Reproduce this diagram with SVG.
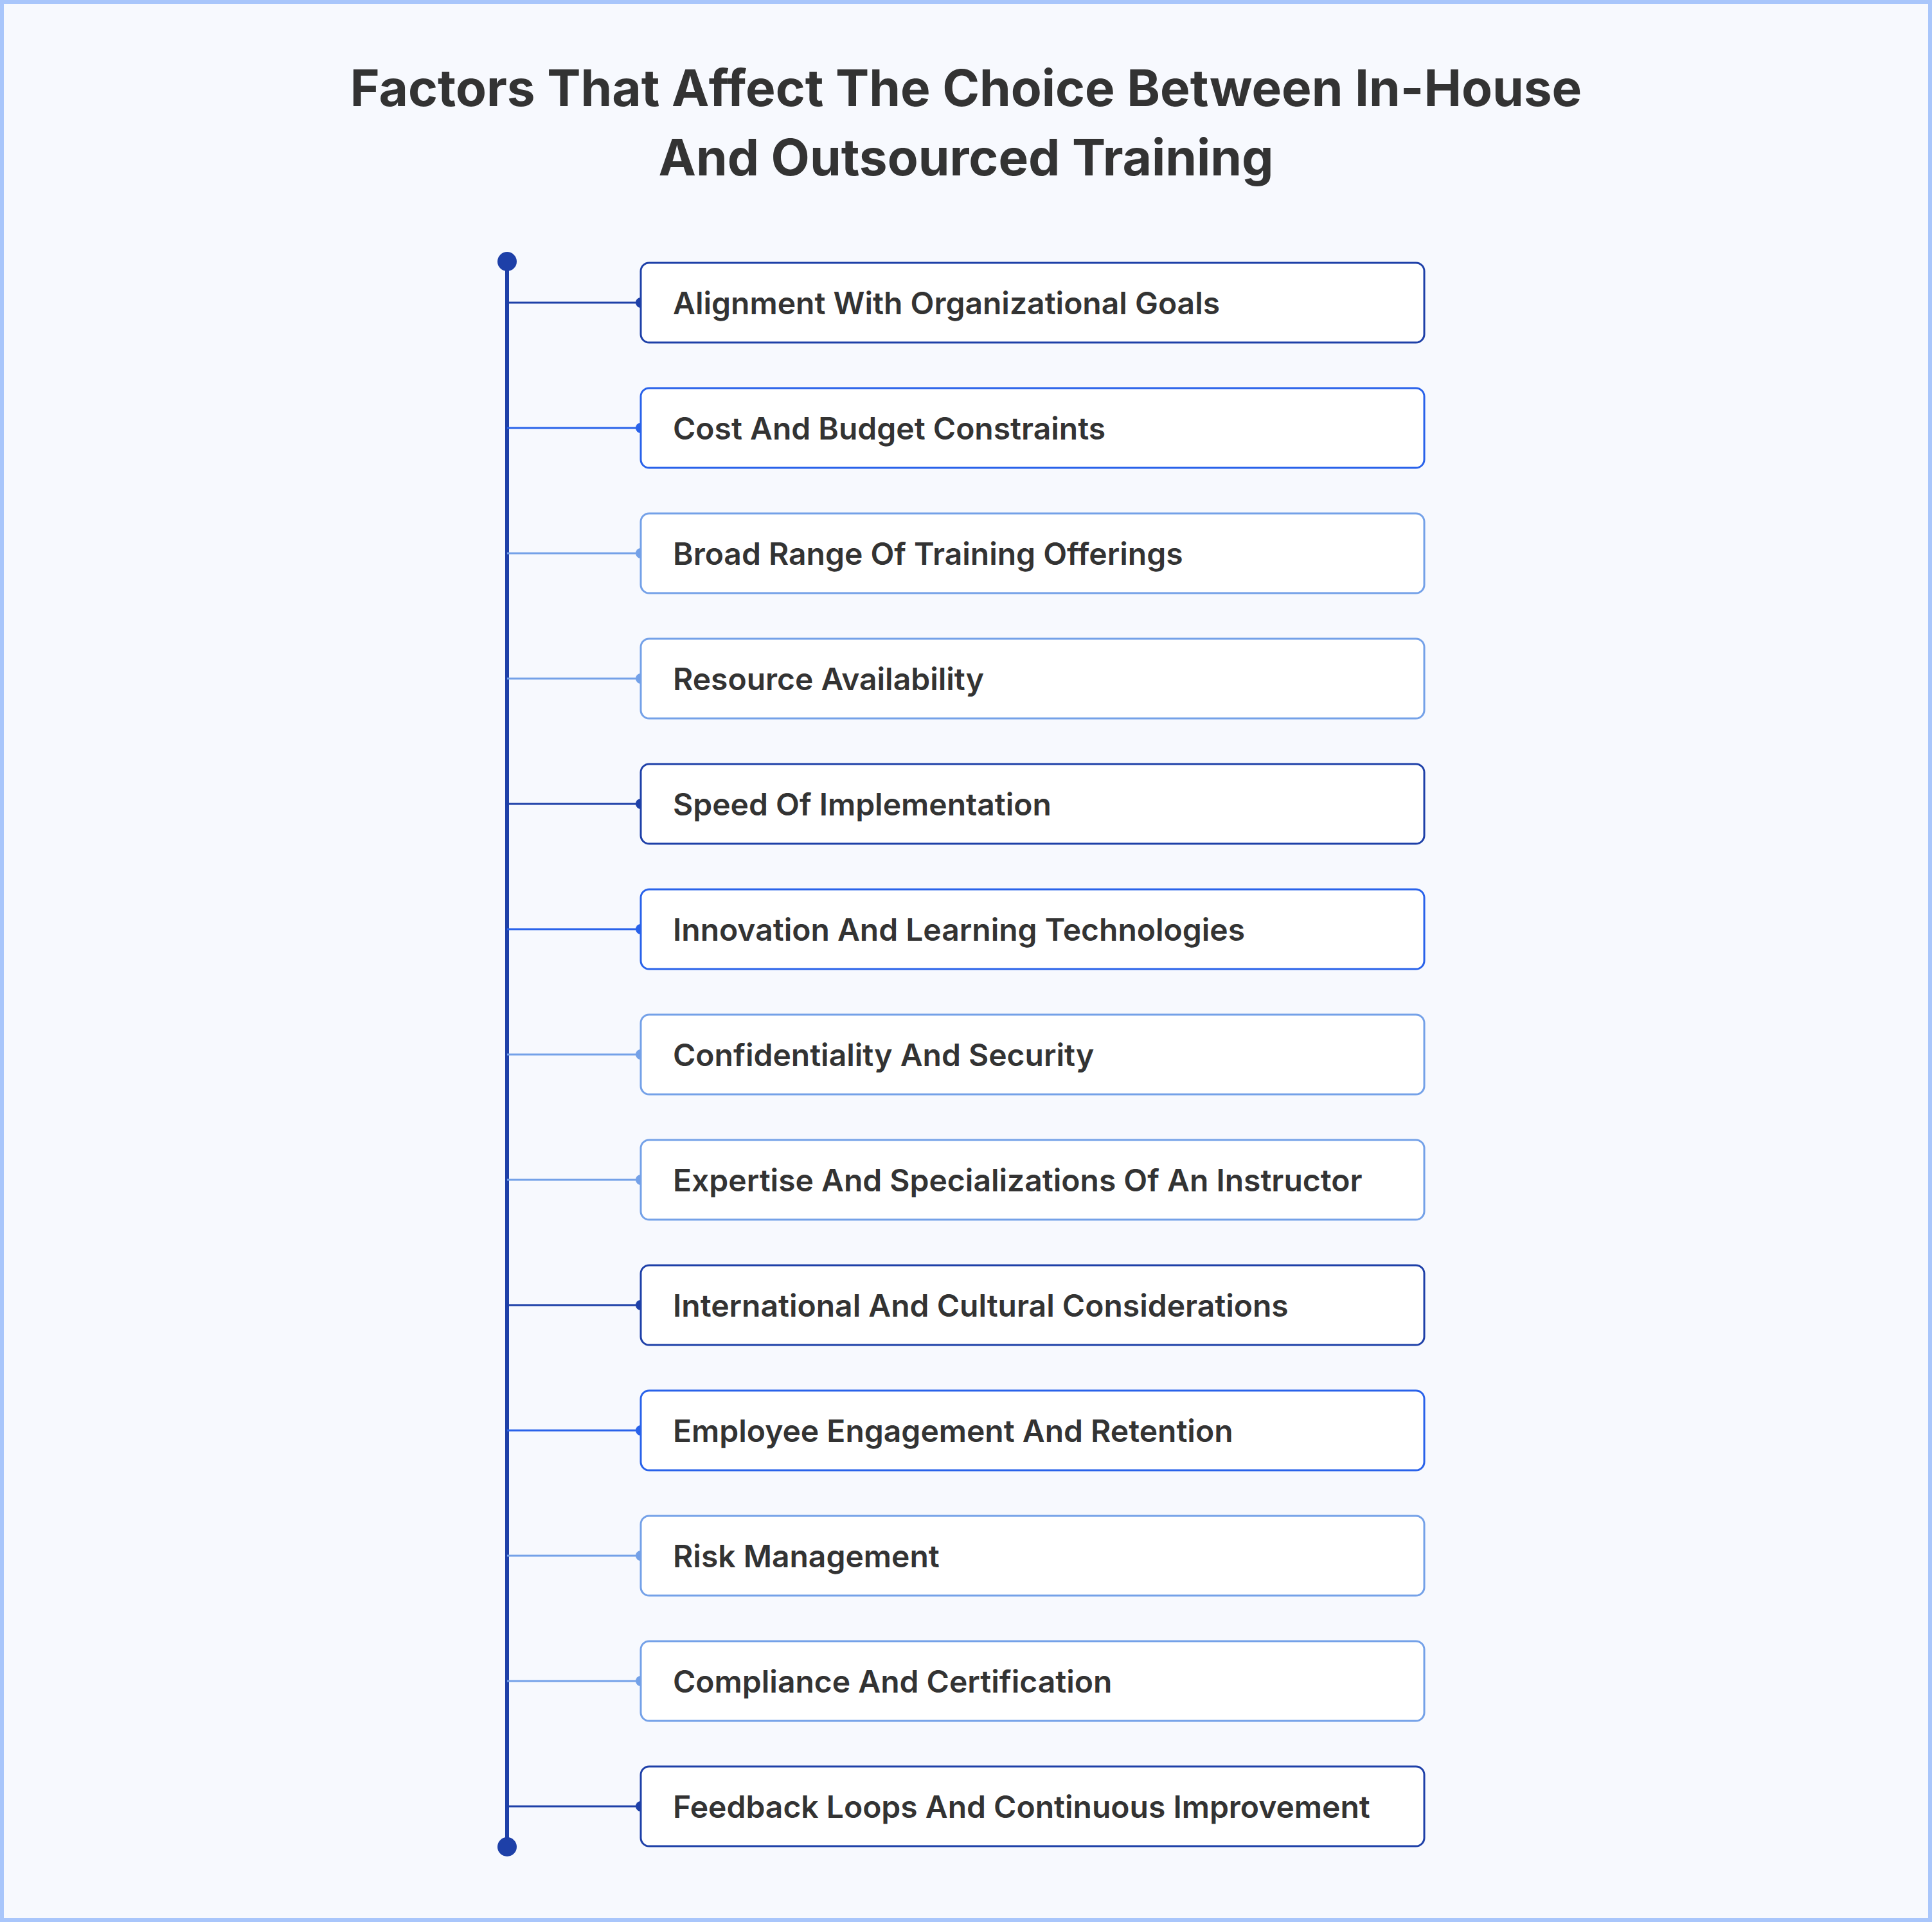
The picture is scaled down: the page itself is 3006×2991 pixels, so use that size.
<svg xmlns="http://www.w3.org/2000/svg" width="3006" height="2991" viewBox="0 0 3006 2991">
<style>
.bg{fill:#f7f9fe;stroke:#a9c6fb;stroke-width:6}
.title{font-family:Inter,"Liberation Sans",sans-serif;font-weight:700;font-size:78.3px;fill:#333333;text-anchor:middle}
.box{fill:#ffffff;stroke-width:3}
.lbl{font-family:Inter,"Liberation Sans",sans-serif;font-weight:600;font-size:48px;fill:#333333}
.c{stroke-width:3;fill:none}
.dark{stroke:#1e40a8}
.mid{stroke:#2962ea}
.light{stroke:#74a1e8}
.fdark{fill:#1e40a8}
.fmid{fill:#2962ea}
.flight{fill:#74a1e8}
</style>
<rect class="bg" x="3" y="3" width="3000" height="2985"/>
<g id="title">
<text class="title" x="1503" y="165">Factors That Affect The Choice Between In-House</text>
<text class="title" x="1503" y="273">And Outsourced Training</text>
</g>
<g id="connectors">
<line x1="789" y1="407" x2="789" y2="2874" stroke="#1e40a8" stroke-width="6"/>
<circle cx="789" cy="407" r="15" fill="#1e40a8"/>
<circle cx="789" cy="2874" r="15" fill="#1e40a8"/>
<line class="c dark" x1="789" y1="471" x2="997" y2="471"/><circle class="fdark" cx="997" cy="471" r="8"/>
<line class="c mid" x1="789" y1="666" x2="997" y2="666"/><circle class="fmid" cx="997" cy="666" r="8"/>
<line class="c light" x1="789" y1="861" x2="997" y2="861"/><circle class="flight" cx="997" cy="861" r="8"/>
<line class="c light" x1="789" y1="1056" x2="997" y2="1056"/><circle class="flight" cx="997" cy="1056" r="8"/>
<line class="c dark" x1="789" y1="1251" x2="997" y2="1251"/><circle class="fdark" cx="997" cy="1251" r="8"/>
<line class="c mid" x1="789" y1="1446" x2="997" y2="1446"/><circle class="fmid" cx="997" cy="1446" r="8"/>
<line class="c light" x1="789" y1="1641" x2="997" y2="1641"/><circle class="flight" cx="997" cy="1641" r="8"/>
<line class="c light" x1="789" y1="1836" x2="997" y2="1836"/><circle class="flight" cx="997" cy="1836" r="8"/>
<line class="c dark" x1="789" y1="2031" x2="997" y2="2031"/><circle class="fdark" cx="997" cy="2031" r="8"/>
<line class="c mid" x1="789" y1="2226" x2="997" y2="2226"/><circle class="fmid" cx="997" cy="2226" r="8"/>
<line class="c light" x1="789" y1="2421" x2="997" y2="2421"/><circle class="flight" cx="997" cy="2421" r="8"/>
<line class="c light" x1="789" y1="2616" x2="997" y2="2616"/><circle class="flight" cx="997" cy="2616" r="8"/>
<line class="c dark" x1="789" y1="2811" x2="997" y2="2811"/><circle class="fdark" cx="997" cy="2811" r="8"/>
</g>
<g id="n1"><rect class="box dark" x="997" y="409" width="1219" height="124" rx="13"/><text class="lbl" x="1047" y="489">Alignment With Organizational Goals</text></g>
<g id="n2"><rect class="box mid" x="997" y="604" width="1219" height="124" rx="13"/><text class="lbl" x="1047" y="684">Cost And Budget Constraints</text></g>
<g id="n3"><rect class="box light" x="997" y="799" width="1219" height="124" rx="13"/><text class="lbl" x="1047" y="879">Broad Range Of Training Offerings</text></g>
<g id="n4"><rect class="box light" x="997" y="994" width="1219" height="124" rx="13"/><text class="lbl" x="1047" y="1074">Resource Availability</text></g>
<g id="n5"><rect class="box dark" x="997" y="1189" width="1219" height="124" rx="13"/><text class="lbl" x="1047" y="1269">Speed Of Implementation</text></g>
<g id="n6"><rect class="box mid" x="997" y="1384" width="1219" height="124" rx="13"/><text class="lbl" x="1047" y="1464">Innovation And Learning Technologies</text></g>
<g id="n7"><rect class="box light" x="997" y="1579" width="1219" height="124" rx="13"/><text class="lbl" x="1047" y="1659">Confidentiality And Security</text></g>
<g id="n8"><rect class="box light" x="997" y="1774" width="1219" height="124" rx="13"/><text class="lbl" x="1047" y="1854">Expertise And Specializations Of An Instructor</text></g>
<g id="n9"><rect class="box dark" x="997" y="1969" width="1219" height="124" rx="13"/><text class="lbl" x="1047" y="2049">International And Cultural Considerations</text></g>
<g id="n10"><rect class="box mid" x="997" y="2164" width="1219" height="124" rx="13"/><text class="lbl" x="1047" y="2244">Employee Engagement And Retention</text></g>
<g id="n11"><rect class="box light" x="997" y="2359" width="1219" height="124" rx="13"/><text class="lbl" x="1047" y="2439">Risk Management</text></g>
<g id="n12"><rect class="box light" x="997" y="2554" width="1219" height="124" rx="13"/><text class="lbl" x="1047" y="2634">Compliance And Certification</text></g>
<g id="n13"><rect class="box dark" x="997" y="2749" width="1219" height="124" rx="13"/><text class="lbl" x="1047" y="2829">Feedback Loops And Continuous Improvement</text></g>
</svg>
